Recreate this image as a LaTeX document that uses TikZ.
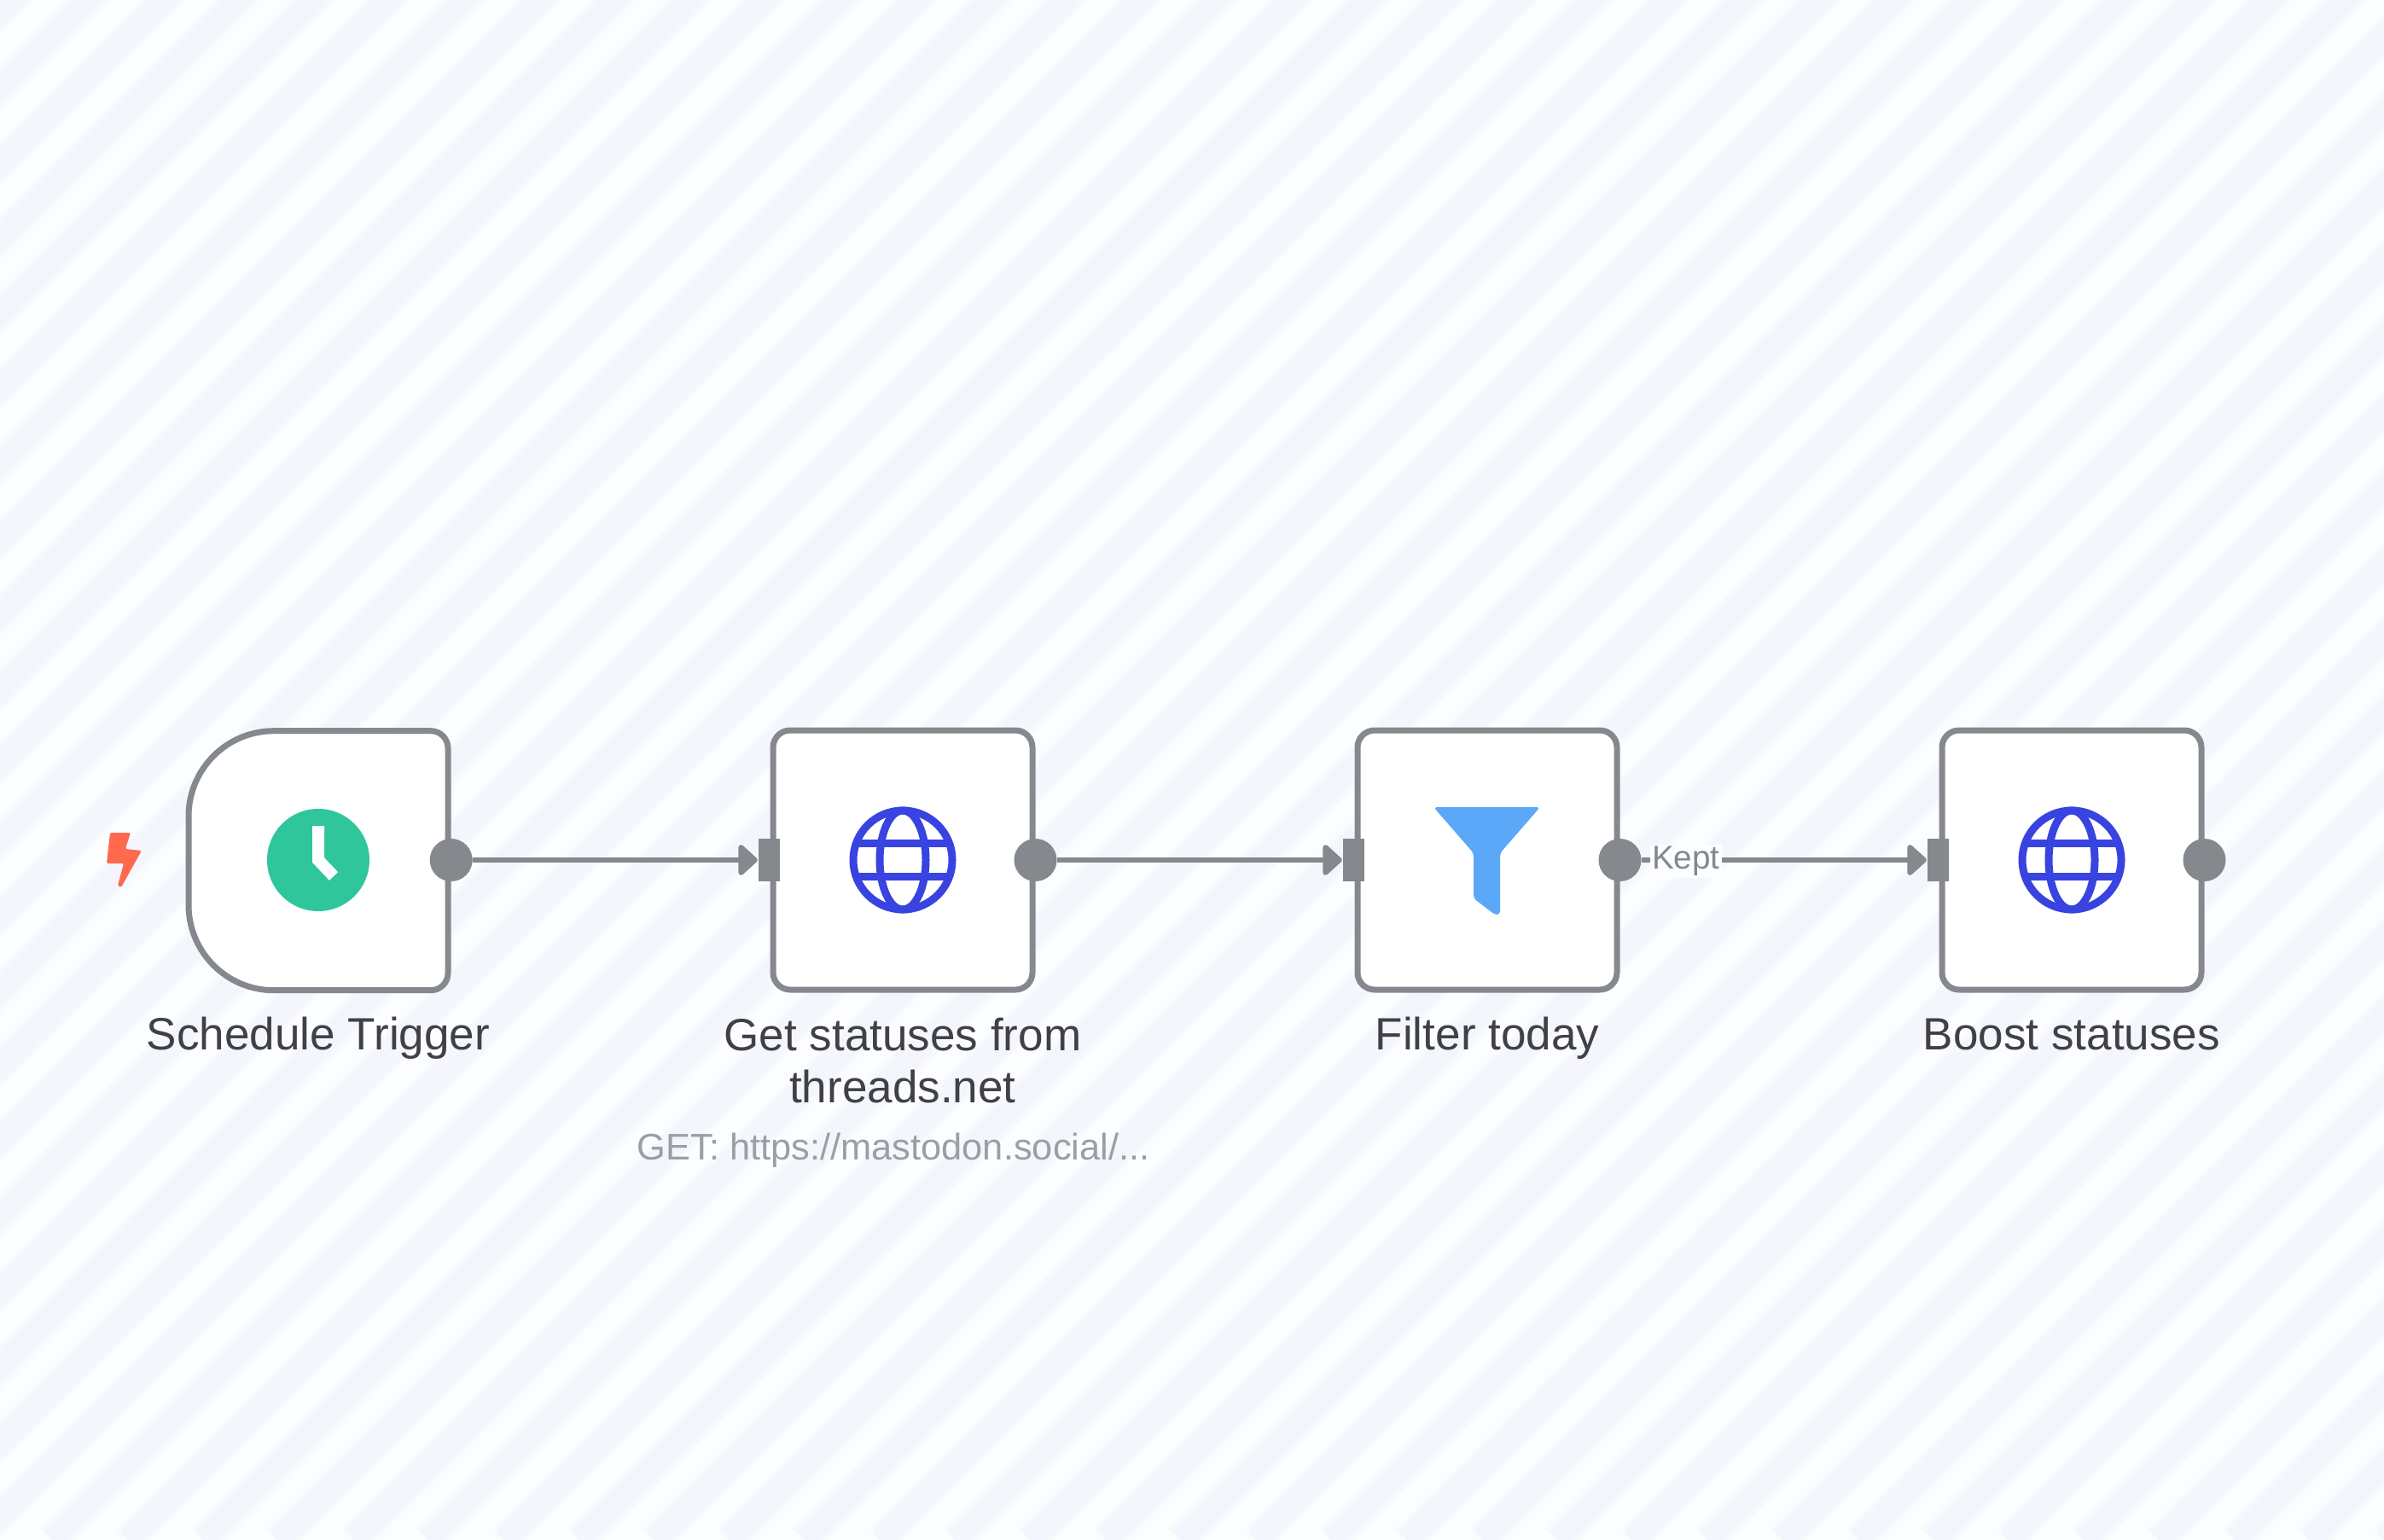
\documentclass[tikz,border=0pt]{standalone}
\usepackage{fontspec}
\setmainfont{Liberation Sans}
\usetikzlibrary{arrows.meta}

\definecolor{wirecol}{HTML}{85888C}
\definecolor{labelcol}{HTML}{3F4145}
\definecolor{subcol}{HTML}{9B9EA2}
\definecolor{pagecol}{HTML}{FCFDFE}
\definecolor{stripecol}{HTML}{F5F6FD}
\definecolor{softcol}{HTML}{F8F9FD}
\definecolor{clockcol}{HTML}{2FC69C}
\definecolor{globecol}{HTML}{3843E0}
\definecolor{funnelcol}{HTML}{5CA8F8}
\definecolor{boltcol}{HTML}{FF6A4F}

\tikzset{
  nodebox/.style={draw=wirecol,fill=white,line width=.07cm,rounded corners=.2cm,minimum size=3.04cm,inner sep=0},
  triggerbox/.style={minimum size=3.10cm,inner sep=0},
  outport/.style={circle,fill=wirecol,minimum size=.5cm,inner sep=0},
  inport/.style={rectangle,fill=wirecol,minimum width=.25cm,minimum height=.5cm,inner sep=0},
  wire/.style={draw=wirecol,line width=.06cm,-{Triangle[length=.24cm,width=.42cm,round]}},
  labeltext/.style={text=labelcol,font=\fontsize{15.1}{17.6}\selectfont,align=center,inner sep=0},
  subtext/.style={text=subcol,font=\fontsize{12.35}{14}\selectfont,inner sep=0},
  edgetext/.style={text=wirecol,font=\fontsize{11}{13}\selectfont,fill=pagecol,inner sep=.02cm},
}

\begin{document}
\begin{tikzpicture}
\useasboundingbox (0,0) rectangle (27.94,-18.05);

% striped background
\fill[pagecol] (0,0) rectangle (27.94,-18.05);
\begin{scope}
\clip (0,0) rectangle (27.94,-18.05);
\foreach \k in {-1,...,52}{
  \draw[softcol,line width=.36cm] ({1.03+.8817*\k+.5},.5) -- ({1.03+.8817*\k-18.05},-18.05);
  \draw[stripecol,line width=.27cm] ({1.03+.8817*\k+.5},.5) -- ({1.03+.8817*\k-18.05},-18.05);
}
\end{scope}

% workflow nodes
\node[triggerbox] (trigger) at (3.73,-10.08) {};
\node[nodebox] (getstatuses) at (10.58,-10.08) {};
\node[nodebox] (filter) at (17.43,-10.08) {};
\node[nodebox] (boost) at (24.28,-10.08) {};

\draw[draw=wirecol,fill=white,line width=.07cm]
  (trigger.south) ++(0,.03)
  [rounded corners=1cm] -- ++(-1.52,0) -- ++(0,3.04)
  [rounded corners=.2cm] -- ++(3.04,0) -- ++(0,-3.04) -- cycle;

% ports
\node[outport] (triggerout) at (trigger.east) {};
\foreach \n in {getstatuses,filter,boost}{
  \node[outport] (\n out) at (\n.east) {};
  \node[inport] (\n in) at ([xshift=-.015cm]\n.west) {};
}

% connectors
\draw[wire] (triggerout) -- (getstatusesin);
\draw[wire] (getstatusesout) -- (filterin);
\draw[wire] (filterout) -- node[edgetext,pos=.155,yshift=-.015cm]{Kept} (boostin);

% icons
\fill[boltcol,rounded corners=.015cm] (1.29,-9.76) -- (1.53,-9.76) -- (1.47,-9.95) -- (1.66,-9.97) -- (1.42,-10.40) -- (1.38,-10.38) -- (1.45,-10.12) -- (1.25,-10.12) -- cycle;

\fill[clockcol] (trigger.center) circle (.60);
\draw[white,line width=.14cm] (3.73,-9.68) -- (3.73,-10.08) -- (3.91,-10.27);

\foreach \n in {getstatuses,boost}{
  \begin{scope}[shift={(\n.center)},globecol,line width=.09cm]
    \draw (0,0) circle (.58);
    \draw (0,0) ellipse (.27 and .58);
    \draw (-.546,.195) -- (.546,.195);
    \draw (-.546,-.195) -- (.546,-.195);
  \end{scope}
}

\fill[funnelcol,rounded corners=.04cm] (16.80,-9.46) -- (18.05,-9.46) -- (17.58,-10.00) -- (17.58,-10.72) -- (17.52,-10.72) -- (17.27,-10.53) -- (17.27,-10.00) -- cycle;

% labels
\node[labeltext,anchor=base] (triggerlabel) at (3.73,-12.30) {Schedule Trigger};
\node[labeltext,anchor=north] (getlabel) at (10.58,-11.92) {Get statuses from\\threads.net};
\node[subtext,anchor=base] (getsub) at (10.47,-13.59) {GET: https://mastodon.social/...};
\node[labeltext,anchor=base] (filterlabel) at (17.43,-12.30) {Filter today};
\node[labeltext,anchor=base] (boostlabel) at (24.28,-12.30) {Boost statuses};
\end{tikzpicture}
\end{document}
